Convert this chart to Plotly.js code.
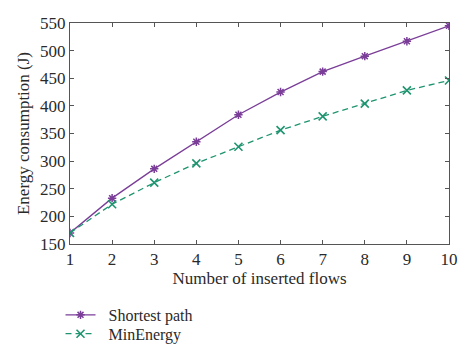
<!DOCTYPE html>
<html>
<head>
<meta charset="utf-8">
<script src="https://cdn.plot.ly/plotly-3.0.1.min.js"></script>
<style>html,body{margin:0;padding:0;background:#fff;}</style>
</head>
<body>
<div id="chart" style="width:474px;height:361px;"></div>
<script>
const flows = [1, 2, 3, 4, 5, 6, 7, 8, 9, 10];
const shortestPath = [170, 233, 286, 335, 384, 425, 462, 490, 517, 545];
const minEnergy = [170, 222, 261, 296, 326, 356, 381, 404, 428, 446];
const seriesNames = ["Shortest path", "MinEnergy"];
const yTicks = [150, 200, 250, 300, 350, 400, 450, 500, 550];

const font = "Liberation Serif, DejaVu Serif, serif";
const purple = "#7a3d98";
const green = "#1f9470";
const txt = "#2a2a2a";

const traces = [
  {
    x: flows, y: shortestPath, name: "\u2002" + seriesNames[0], type: "scatter", mode: "lines+markers",
    legend: "legend",
    line: {color: purple, width: 1.3},
    marker: {symbol: "asterisk-open", size: 7, color: purple, line: {color: purple, width: 1.5}}
  },
  {
    x: flows, y: minEnergy, name: "\u2002" + seriesNames[1], type: "scatter", mode: "lines+markers",
    legend: "legend2",
    line: {color: green, width: 1.3, dash: "6px,4px"},
    marker: {symbol: "x-thin-open", size: 8, color: green, line: {color: green, width: 1.6}}
  }
];

const legendCommon = {
  xanchor: "left", yanchor: "middle",
  font: {family: font, size: 16, color: txt},
  itemwidth: 30, bgcolor: "rgba(0,0,0,0)"
};

const layout = {
  width: 474, height: 361,
  margin: {l: 70, r: 25, t: 23, b: 116},
  paper_bgcolor: "#fff", plot_bgcolor: "#fff",
  font: {family: font, size: 17, color: txt},
  showlegend: true,
  legend: Object.assign({x: -0.025, y: -0.315}, legendCommon),
  legend2: Object.assign({x: -0.025, y: -0.4}, legendCommon),
  xaxis: {
    range: [1, 10], tickvals: flows, ticks: "inside", ticklen: 4, tickcolor: "#555",
    showline: true, linecolor: "#555", linewidth: 1, mirror: "ticks",
    showgrid: false, zeroline: false,
    tickfont: {family: font, size: 17, color: txt},
    title: {text: "Number of inserted flows", font: {family: font, size: 17, color: txt}, standoff: 3}
  },
  yaxis: {
    range: [150, 550], tickvals: yTicks, ticks: "inside", ticklen: 4, tickcolor: "#555",
    showline: true, linecolor: "#555", linewidth: 1, mirror: "ticks",
    showgrid: false, zeroline: false,
    tickfont: {family: font, size: 17, color: txt},
    title: {text: "Energy consumption (J)", font: {family: font, size: 17, color: txt}, standoff: 6}
  }
};

Plotly.newPlot("chart", traces, layout, {displayModeBar: false, staticPlot: true});
</script>
</body>
</html>
